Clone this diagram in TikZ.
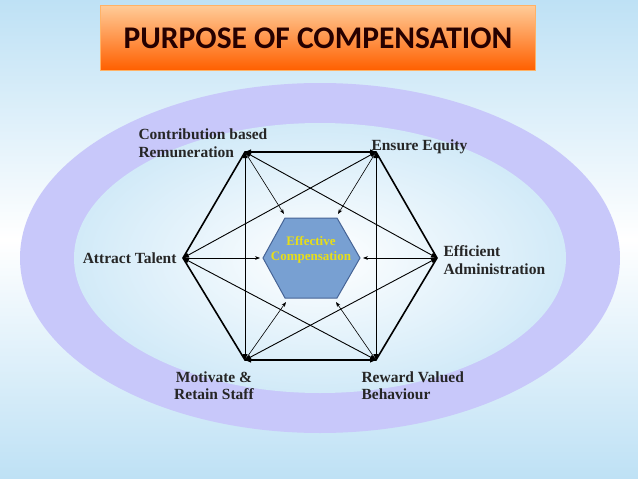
\documentclass[tikz,border=0pt]{standalone}
\usepackage{fontspec}
\setmainfont{Liberation Serif}
\newfontfamily\titlefont{Carlito}
\usetikzlibrary{arrows.meta}
\definecolor{bgblue}{RGB}{190,225,245}
\definecolor{ring}{RGB}{200,200,250}
\definecolor{hexfill}{RGB}{120,160,210}
\definecolor{hexline}{RGB}{70,100,150}
\tikzset{
 lab/.style={font=\bfseries\fontsize{15.5}{17.5}\selectfont, align=left, text=black!85},
 edge/.style={line width=1.6pt},
 diag/.style={line width=0.9pt, {Triangle[length=6pt,width=5pt]}-{Triangle[length=6pt,width=5pt]}},
 inarr/.style={line width=0.6pt, -{Stealth[length=5pt]}},
}
\begin{document}
\begin{tikzpicture}[x=1pt,y=-1pt]
\useasboundingbox (0,0) rectangle (638,479);
\shade[top color=bgblue, bottom color=bgblue, middle color=white] (0,0) rectangle (638,479);
\fill[ring] (320,258) ellipse [x radius=300, y radius=175];
\shade[inner color=white, outer color=bgblue!70] (320,258) ellipse [x radius=246, y radius=135];
% title
\shade[top color=orange!40, bottom color=orange!75!red, draw=orange!60] (100,5) rectangle (535,70);
\node[font=\titlefont\bfseries\fontsize{31.5}{34}\selectfont, text=black!85!red] (title) at (318,38) {PURPOSE OF COMPENSATION};
% vertices
\coordinate (TL) at (245,152);
\coordinate (TR) at (376,152);
\coordinate (R) at (437,258);
\coordinate (BR) at (376,360);
\coordinate (BL) at (245,360);
\coordinate (L) at (183,258);
% inner hexagon
\coordinate (iL) at (263,258);
\coordinate (iTL) at (285,218);
\coordinate (iTR) at (337,218);
\coordinate (iR) at (360,258);
\coordinate (iBR) at (337,298);
\coordinate (iBL) at (285,298);
\filldraw[fill=hexfill, draw=hexline, line width=1pt] (iL)--(iTL)--(iTR)--(iR)--(iBR)--(iBL)--cycle;
\node[font=\bfseries\fontsize{13}{15}\selectfont, text=yellow!90!black, align=center] (center) at (311,250) {Effective\\Compensation};
% edges
\draw[edge, line join=miter] (TL)--(TR)--(R)--(BR)--(BL)--(L)--cycle;
\draw[diag] (TL)--(BL);
\draw[diag] (TR)--(BR);
\draw[diag] (L)--(TR);
\draw[diag] (L)--(BR);
\draw[diag] (TL)--(R);
\draw[diag] (BL)--(R);
\draw[diag] (TL)--(TR);
\draw[diag] (BL)--(BR);
% arrows to centre
\draw[inarr] (TL)--(284,214);
\draw[inarr] (TR)--(338,214);
\draw[inarr] (L)--(260,258);
\draw[inarr] (R)--(363,258);
\draw[inarr] (BL)--(286,302);
\draw[inarr] (BR)--(336,302);
% labels
\node[lab, anchor=south west] (l1) at (135,161) {Contribution based\\Remuneration};
\node[lab, anchor=south west] (l2) at (368,157) {Ensure Equity};
\node[lab, anchor=east] (l3) at (180,258) {Attract Talent};
\node[lab, anchor=west] (l4) at (440,260) {Efficient\\Administration};
\node[lab, anchor=north, align=center] (l5) at (214,368) {Motivate \&\\Retain Staff};
\node[lab, anchor=north west] (l6) at (358,368) {Reward Valued\\Behaviour};
\end{tikzpicture}
\end{document}
